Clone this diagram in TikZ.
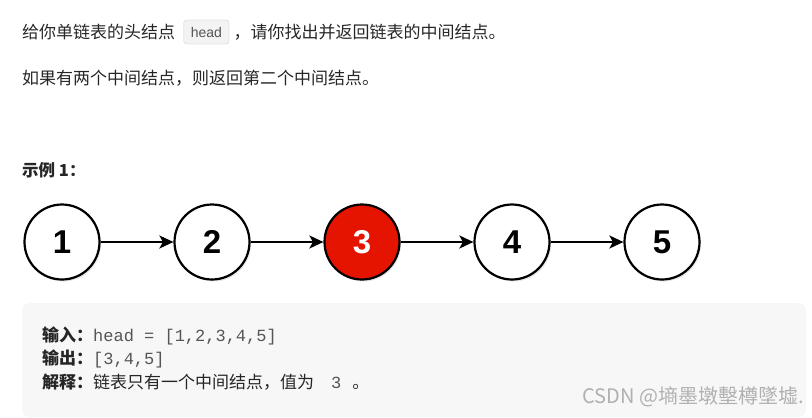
\documentclass[tikz,border=0pt]{standalone}
\usepackage{fontspec}
\setmainfont{Noto Sans CJK SC}
\setmonofont{Liberation Mono}
\newfontfamily\numfont{Liberation Sans}
\usetikzlibrary{positioning,arrows.meta,shadows}
\definecolor{nodered}{HTML}{E51400}
\definecolor{boxgray}{HTML}{F7F7F8}
\definecolor{textdark}{HTML}{262626}
\definecolor{codegray}{HTML}{555555}
\definecolor{markgray}{HTML}{B0B0B0}
\definecolor{chipfill}{HTML}{F3F3F4}
\definecolor{chipline}{HTML}{E3E3E3}

\begin{document}
\begin{tikzpicture}[x=1pt, y=-1pt, node distance=150pt,
  main/.style = {draw, circle, line width=2.2pt, minimum size=75pt, inner sep=0pt, fill=white,
    font=\numfont\bfseries\fontsize{33}{33}\selectfont,
    drop shadow={shadow xshift=1.5pt, shadow yshift=-2pt, opacity=0.2}},
  arr/.style = {line width=2.2pt, -{Stealth[length=14pt, width=13pt, inset=3.5pt]}},
  txt/.style = {anchor=west, inner sep=0pt, text=textdark, font=\fontsize{17}{21}\selectfont},
  chip/.style = {draw=chipline, fill=chipfill, rounded corners=3pt, line width=0.8pt,
    inner xsep=7pt, minimum height=24pt, text=codegray, font=\numfont\fontsize{14}{14}\selectfont}]
  \useasboundingbox (0,0) rectangle (812,418);
  % statement
  \node[txt] (line1a) at (22,32) {给你单链表的头结点};
  \node[chip] (headchip) [right=8pt of line1a] {head};
  \node[txt] (line1b) [right=4pt of headchip] {，请你找出并返回链表的中间结点。};
  \node[txt] (line2) at (22,78) {如果有两个中间结点，则返回第二个中间结点。};
  \node[txt, font=\bfseries\fontsize{16.5}{18}\selectfont] (example) at (22,170) {示例 1：};
  % list
  \node[main] (1) at (62,242) {1};
  \node[main] (2) [right of=1] {2};
  \node[main, fill=nodered, text=white] (3) [right of=2] {3};
  \node[main] (4) [right of=3] {4};
  \node[main] (5) [right of=4] {5};
  \draw[arr] (1) -- (2);
  \draw[arr] (2) -- (3);
  \draw[arr] (3) -- (4);
  \draw[arr] (4) -- (5);
  % example box
  \fill[boxgray, rounded corners=8pt] (22,303) rectangle (806,417);
  \node[txt] (input) at (42,336) {\textbf{输入：}\textcolor{codegray}{\ttfamily head = [1,2,3,4,5]}};
  \node[txt] (output) at (42,359) {\textbf{输出：}\textcolor{codegray}{\ttfamily [3,4,5]}};
  \node[txt] (explain) at (42,382) {\textbf{解释：}链表只有一个中间结点，值为\hspace{17pt}\textcolor{codegray}{\ttfamily 3}\hspace{11pt}。};
  \node[txt, anchor=east, text=markgray, font=\fontsize{20}{22}\selectfont] (mark) at (804,397) {CSDN @墒墨墩墼樽墜墟.};
\end{tikzpicture}
\end{document}
